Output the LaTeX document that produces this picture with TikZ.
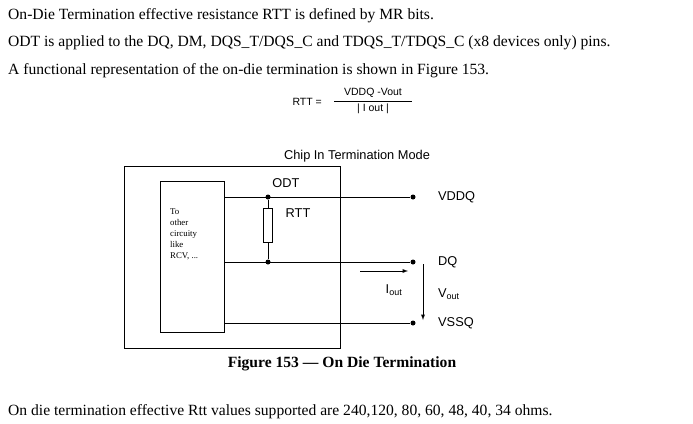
\documentclass[tikz,border=0pt]{standalone}
\usepackage{fontspec}
\setmainfont{Liberation Serif}
\newfontfamily\arial{Liberation Sans}
\begin{document}
\begin{tikzpicture}[x=1pt,y=-1pt,
  body/.style={anchor=base west,inner sep=0,font=\fontsize{15.6}{18}\selectfont},
  lab/.style={inner sep=0,font=\arial\fontsize{12.8}{14}\selectfont},
  frac/.style={inner sep=0,font=\arial\fontsize{10.5}{12}\selectfont},
  wire/.style={line width=0.9pt},
  dot/.style={circle,fill,inner sep=0,minimum size=5pt}]
\useasboundingbox (0,0) rectangle (693,423);
\node[body] (t1) at (8,19) {On-Die Termination effective resistance RTT is defined by MR bits.};
\node[body] (t2) at (8,46) {ODT is applied to the DQ, DM, DQS\_T/DQS\_C and TDQS\_T/TDQS\_C (x8 devices only) pins.};
\node[body] (t3) at (8,74) {A functional representation of the on-die termination is shown in Figure 153.};
\node[frac,anchor=east] (req) at (322,102) {RTT =};
\node[frac] (num) at (373,93) {VDDQ -Vout};
\node[frac] (den) at (373,109) {| I out |};
\draw[line width=0.6pt] (334,101) -- (412,101);
\node[lab] (title) at (357,156) {Chip In Termination Mode};
\draw[wire] (124,166) rectangle (340,348);
\node[draw,wire,minimum width=64pt,minimum height=151pt,anchor=north west] (inner) at (160,181) {};
\node[anchor=north west,inner sep=0,align=left,font=\fontsize{8.8}{10.8}\selectfont] (itxt) at (170,209) {To\\other\\circuity\\like\\RCV, ...};
\coordinate (v0) at (224,197); \coordinate (d0) at (224,262); \coordinate (s0) at (224,323);
\node[dot] (odt) at (268,197) {};
\node[dot] (dqn) at (268,262) {};
\node[dot] (vddq) at (413,197) {};
\node[dot] (dq) at (413,262) {};
\node[dot] (vssq) at (413,323) {};
\draw[wire] (v0) -- (vddq);
\draw[wire] (d0) -- (dq);
\draw[wire] (s0) -- (vssq);
\node[draw,wire,minimum width=9pt,minimum height=34pt,inner sep=0] (res) at (268,225) {};
\draw[wire] (odt) -- (res.north);
\draw[wire] (res.south) -- (dqn);
\node[lab] (odtl) at (286,183) {ODT};
\node[lab] (rttl) at (298,213) {RTT};
\node[lab,anchor=west] (l1) at (438,197) {VDDQ};
\node[lab,anchor=west] (l2) at (438,262) {DQ};
\node[lab,anchor=west] (l3) at (438,294) {V\textsubscript{out}};
\node[lab,anchor=west] (l4) at (438,323) {VSSQ};
\node[lab] (iout) at (394,290) {I\textsubscript{out}};
\coordinate (ia) at (360,271); \coordinate (ib) at (408,271);
\draw[wire,-latex] (ia) -- (ib);
\coordinate (va) at (423,264); \coordinate (vb) at (423,320);
\draw[wire,-latex] (va) -- (vb);
\node[inner sep=0,font=\bfseries\fontsize{15.6}{18}\selectfont] (cap) at (342,364) {Figure 153 --- On Die Termination};
\node[body] (t4) at (8,415) {On die termination effective Rtt values supported are 240,120, 80, 60, 48, 40, 34 ohms.};
\end{tikzpicture}
\end{document}
